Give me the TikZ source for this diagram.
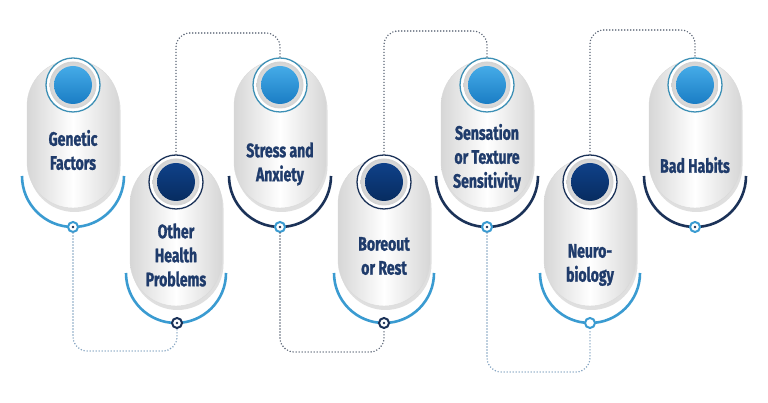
\documentclass[tikz,border=0pt]{standalone}
\usepackage{fontspec}
\setmainfont{Fira Sans}[FakeStretch=0.72, BoldFeatures={FakeBold=1.2}]
\usetikzlibrary{shadows}
\definecolor{txt}{HTML}{1F3B6B}
\definecolor{lblue}{HTML}{3A9BD1}
\definecolor{dnavy}{HTML}{1B3258}
\definecolor{teal}{HTML}{3C8FB5}
\definecolor{discLt}{HTML}{45ABE8}
\definecolor{discLb}{HTML}{1A7DC4}
\definecolor{discDt}{HTML}{0F4189}
\definecolor{discDb}{HTML}{072C60}
\definecolor{dotlt}{HTML}{7FA0BF}
\definecolor{dotdk}{HTML}{5A6475}
\begin{document}
\begin{tikzpicture}[x=1pt,y=1pt,
  pill/.style={rectangle, rounded corners=46pt, minimum width=92pt, minimum height=148pt,
    inner sep=0pt, left color=gray!32, right color=gray!32, middle color=white,
    draw=gray!30, line width=0.4pt,
    drop shadow={opacity=0.25, shadow xshift=1.5pt, shadow yshift=-4pt}},
  ring/.style={circle, minimum size=54pt, inner sep=0pt, draw=#1, line width=1.3pt, fill=white},
  halo/.style={inner color=white, outer color=gray!35},
  discL/.style={top color=discLt, bottom color=discLb},
  discD/.style={top color=discDt, bottom color=discDb},
  barc/.style={draw=#1, line width=2.6pt},
  small/.style={circle, minimum size=10pt, inner sep=0pt, draw=#1, line width=2pt, fill=white},
  lbl/.style={font=\bfseries\fontsize{19.5}{24}\selectfont, text=txt, align=center},
  dotc/.style={draw=#1, line width=1.6pt, line cap=round, dash pattern=on 0pt off 3pt, rounded corners=14pt}
]
\useasboundingbox (0,0) rectangle (768,403);
\fill[white] (0,0) rectangle (768,403);

% pills
\node[pill] (p1) at (73,269) {};
\node[pill] (p2) at (176,171) {};
\node[pill] (p3) at (280,269) {};
\node[pill] (p4) at (384,171) {};
\node[pill] (p5) at (487,269) {};
\node[pill] (p6) at (590,171) {};
\node[pill] (p7) at (695,269) {};

% bottom arcs
\draw[barc=lblue] (22,227) arc (180:360:51);
\draw[barc=lblue] (126,130) arc (180:360:50);
\draw[barc=dnavy] (229,227) arc (180:360:51);
\draw[barc=lblue] (334,130) arc (180:360:50);
\draw[barc=dnavy] (436,227) arc (180:360:51);
\draw[barc=lblue] (540,130) arc (180:360:50);
\draw[barc=dnavy] (644,227) arc (180:360:51);

% rings with discs
\node[ring=teal] (r1) at (73,318) {};
\node[ring=dnavy] (r2) at (176,221) {};
\node[ring=teal] (r3) at (280,318) {};
\node[ring=dnavy] (r4) at (384,221) {};
\node[ring=teal] (r5) at (487,318) {};
\node[ring=dnavy] (r6) at (590,221) {};
\node[ring=teal] (r7) at (695,318) {};
\foreach \r in {r1,r3,r5,r7}{
  \shade[halo] (\r.center) circle (23.5pt);
  \shade[discL] (\r.center) circle (19pt);
}
\foreach \r in {r2,r4,r6}{
  \shade[halo] (\r.center) circle (23.5pt);
  \shade[discD] (\r.center) circle (19pt);
}

% small circles
\node[small=lblue] (s1) at (73,176) {};
\node[small=dnavy] (s2) at (177,80) {};
\node[small=lblue] (s3) at (280,176) {};
\node[small=dnavy] (s4) at (384,80) {};
\node[small=lblue] (s5) at (487,176) {};
\node[small=lblue] (s6) at (590,80) {};
\node[small=lblue] (s7) at (695,176) {};
\fill[dnavy] (s1.center) circle (1.4pt);
\fill[dnavy] (s2.center) circle (1.4pt);
\fill[dnavy] (s3.center) circle (1.4pt);
\fill[dnavy] (s4.center) circle (1.4pt);
\fill[dnavy] (s5.center) circle (1.4pt);
\fill[dnavy] (s7.center) circle (1.4pt);

% labels
\node[lbl] (t1) at (73,253) {Genetic\\Factors};
\node[lbl] (t2) at (176,148) {Other\\Health\\Problems};
\node[lbl] (t3) at (280,239) {Stress and\\Anxiety};
\node[lbl] (t4) at (384,147) {Boreout\\or Rest};
\node[lbl] (t5) at (487,245) {Sensation\\or Texture\\Sensitivity};
\node[lbl] (t6) at (590,138) {Neuro-\\biology};
\node[lbl] (t7) at (695,238) {Bad Habits};

% connectors
\draw[dotc=dotlt] (s1.south) -- (s1 |- 0,52) -- (s2 |- 0,52) -- (s2.south);
\draw[dotc=dotdk] (r2.north) -- (r2 |- 0,370) -- (r3 |- 0,370) -- (r3.north);
\draw[dotc=dotdk] (s3.south) -- (s3 |- 0,51) -- (s4 |- 0,51) -- (s4.south);
\draw[dotc=dotdk] (r4.north) -- (r4 |- 0,372) -- (r5 |- 0,372) -- (r5.north);
\draw[dotc=dotlt] (s5.south) -- (s5 |- 0,31) -- (s6 |- 0,31) -- (s6.south);
\draw[dotc=dotdk] (r6.north) -- (r6 |- 0,373) -- (r7 |- 0,373) -- (r7.north);
\end{tikzpicture}
\end{document}
